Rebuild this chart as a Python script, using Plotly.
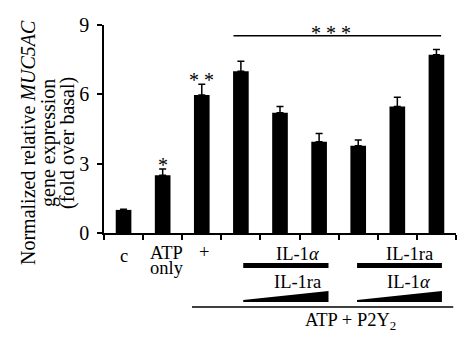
import plotly.graph_objects as go

# ---- data ----
categories = ["c", "ATP only", "+", "IL-1a", "IL-1a+ra lo", "IL-1a+ra hi", "IL-1ra", "IL-1ra+a lo", "IL-1ra+a hi"]
means = [1.0, 2.5, 5.97, 7.0, 5.2, 3.95, 3.77, 5.47, 7.71]
errors = [0.03, 0.27, 0.47, 0.43, 0.27, 0.35, 0.25, 0.40, 0.23]
stars = ["", "*", "* *", "", "", "", "", "", ""]
ytick_vals = [0, 3, 6, 9]
ytitle_lines = ["Normalized relative <i>MUC5AC</i>", "gene expression", "(fold over basal)"]

FONT = "Liberation Serif"
x_idx = list(range(len(categories)))

fig = go.Figure()
fig.add_trace(go.Bar(
    x=x_idx, y=means, width=0.4,
    marker=dict(color="black", line=dict(width=0)),
    error_y=dict(type="data", array=errors, arrayminus=[0] * len(errors),
                 symmetric=False, color="black", thickness=1.5, width=3.5),
    showlegend=False, hoverinfo="y",
))

PLOT_TOP, PLOT_BOT = 25, 233
def py(p):
    return (PLOT_BOT - p) / (PLOT_BOT - PLOT_TOP)

def px(p):
    return (p - 104) / 352.0

star_font = dict(family=FONT, size=20, color="black")
annotations = []
for i, s in enumerate(stars):
    if s:
        annotations.append(dict(x=i, y=means[i] + errors[i], text=s, showarrow=False,
                                xanchor="center", yanchor="bottom", yshift=-9, font=star_font))

# significance bracket
annotations.append(dict(x=5.3, y=8.53, text="* * *", showarrow=False, xanchor="center",
                        yanchor="bottom", yshift=-10, font=star_font))

lab_font = dict(family=FONT, size=18.5, color="black")
def lab(x, yp, text):
    return dict(x=x, y=py(yp), xref="x", yref="paper", text=text, showarrow=False,
                xanchor="center", yanchor="middle", font=lab_font)

annotations += [
    lab(0, 256, "c"),
    lab(1.1, 253, "ATP"),
    lab(1.1, 268, "only"),
    lab(2.05, 252, "+"),
    lab(4.45, 254, "IL-1<i>α</i>"),
    lab(4.45, 282, "IL-1ra"),
    lab(7.3, 254, "IL-1ra"),
    lab(7.3, 282, "IL-1<i>α</i>"),
    lab(5.8, 321, "ATP + P2Y<sub>2</sub>"),
]
for xp, line in zip([28, 48, 67], ytitle_lines):
    annotations.append(dict(x=px(xp), y=py(143), xref="paper", yref="paper", textangle=-90,
                            xanchor="center", yanchor="middle", text=line, showarrow=False,
                            font=dict(family=FONT, size=20, color="black")))

shapes = [
    dict(type="line", xref="x", yref="y", x0=2.81, x1=8.12, y0=8.53, y1=8.53,
         line=dict(color="black", width=1.5)),
    dict(type="rect", xref="x", yref="paper", x0=3.06, x1=5.24, y0=py(268), y1=py(263),
         fillcolor="black", line=dict(width=0)),
    dict(type="rect", xref="x", yref="paper", x0=5.97, x1=8.14, y0=py(268), y1=py(263),
         fillcolor="black", line=dict(width=0)),
    dict(type="line", xref="x", yref="paper", x0=1.75, x1=8.43, y0=py(307), y1=py(307),
         line=dict(color="black", width=1.5)),
]
for a, b in [(3.06, 5.24), (5.97, 8.14)]:
    shapes.append(dict(type="path", xref="x", yref="paper",
                       path=f"M {a},{py(302)} L {b},{py(302)} L {b},{py(291)} L {a},{py(300)} Z",
                       fillcolor="black", line=dict(width=0)))

fig.update_layout(
    width=474, height=348,
    margin=dict(l=104, r=18, t=25, b=115),
    plot_bgcolor="white", paper_bgcolor="white",
    font=dict(family=FONT, color="black"),
    xaxis=dict(range=[-0.5, 8.5], tickvals=[i - 0.5 for i in range(len(categories) + 1)],
               showticklabels=False, ticks="outside", ticklen=5, tickwidth=1.5, tickcolor="black",
               showline=True, linecolor="black", linewidth=1.5, showgrid=False, zeroline=False),
    yaxis=dict(range=[0, 9], tickvals=ytick_vals, ticks="outside", ticklen=5, tickwidth=1.5,
               tickcolor="black", showline=True, linecolor="black", linewidth=1.5,
               ticklabelstandoff=4,
               showgrid=False, zeroline=False, tickfont=dict(family=FONT, size=20, color="black")),
    annotations=annotations, shapes=shapes, bargap=0.6,
)

fig.write_html("out.html")
